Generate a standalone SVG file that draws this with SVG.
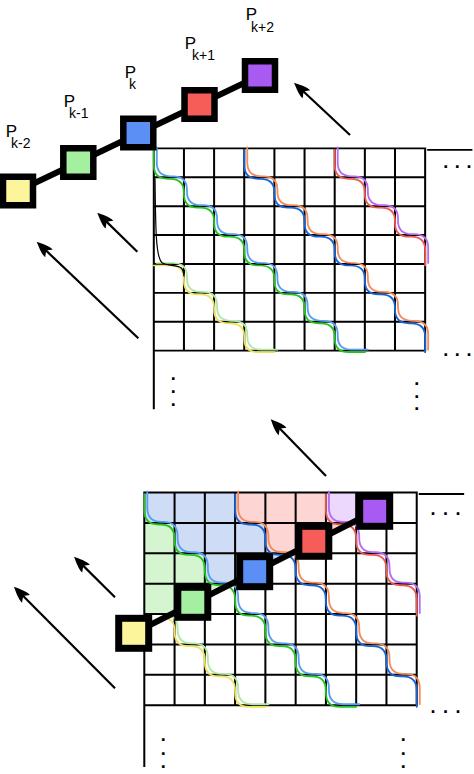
<svg xmlns="http://www.w3.org/2000/svg" xmlns:xlink="http://www.w3.org/1999/xlink" width="474" height="774" viewBox="0 0 474 774">
<style>
.gl{fill:none;stroke:#000;stroke-width:2;stroke-linecap:square}
.c{fill:none;stroke-width:1.8;stroke-linecap:round;stroke-linejoin:round}
.a{transform:translate(0px,1.6px)}
.b{transform:translate(3px,-1px)}
.nt{stroke:#000;stroke-width:6.5}
.nb{stroke:#000;stroke-width:7}
.lbl{font-family:"Liberation Sans",Arial,sans-serif;fill:#000;font-size:17px}
.sub{font-size:14px}
.arrow{stroke:#000;stroke-width:2.2;fill:none;marker-end:url(#ah)}
.chain{stroke:#000;stroke-width:6}
.dots{font-family:"Liberation Sans",Arial,sans-serif;font-size:18px;font-weight:bold;fill:#000}
</style>
<defs>
<marker id="ah" markerUnits="userSpaceOnUse" markerWidth="28" markerHeight="28" viewBox="-14 -14 28 28" refX="0" refY="0" orient="auto">
<path d="M6,0 C1,-2.2 -6,-5.8 -11,-5.5 L-7,0 L-11,5.5 C-6,5.8 1,2.2 6,0 Z" fill="#000"/>
</marker>
<path id="s1" d="M0,0 V16 Q0,30 14,30 H16 Q30,30 30,44 V46 Q30,60 44,60 H46 Q60,60 60,74 V76 Q60,90 74,90 H76 Q90,90 90,104 V106 Q90,120 104,120 H106 Q120,120 120,134 V136 Q120,150 134,150 H136 Q150,150 150,164 V166 Q150,180 164,180 H166 Q180,180 180,194 V196 Q180,210 194,210 H210"/>
<path id="s2" d="M90,0 V16 Q90,30 104,30 H106 Q120,30 120,44 V46 Q120,60 134,60 H136 Q150,60 150,74 V76 Q150,90 164,90 H166 Q180,90 180,104 V106 Q180,120 194,120 H196 Q210,120 210,134 V136 Q210,150 224,150 H226 Q240,150 240,164 V166 Q240,180 254,180 H256 Q270,180 270,194 V210"/>
<path id="s3" d="M180,0 V16 Q180,30 194,30 H196 Q210,30 210,44 V46 Q210,60 224,60 H226 Q240,60 240,74 V76 Q240,90 254,90 H256 Q270,90 270,104 V120"/>
<path id="s4" d="M0,120 H16 Q30,120 30,134 V136 Q30,150 44,150 H46 Q60,150 60,164 V166 Q60,180 74,180 H76 Q90,180 90,194 V196 Q90,210 104,210 H120"/>
<path id="s4b" d="M19,123 Q30,122 30,135 V136 Q30,150 44,150 H46 Q60,150 60,164 V166 Q60,180 74,180 H76 Q90,180 90,194 V196 Q90,210 104,210 H120"/>
<path id="gl" class="gl" d="M0,0V210M30,0V210M60,0V210M90,0V210M120,0V210M150,0V210M180,0V210M210,0V210M240,0V210M270,0V210M0,0H270M0,30H270M0,60H270M0,90H270M0,120H270M0,150H270M0,180H270M0,210H270M273,1.5H316M0,210V270"/>
<g id="waves">
<use xlink:href="#s1" class="c a" stroke="#22c422"/>
<use xlink:href="#s1" class="c b" stroke="#5a9cf0"/>
<use xlink:href="#s2" class="c a" stroke="#1863d6"/>
<use xlink:href="#s2" class="c b" stroke="#f28c5c"/>
<use xlink:href="#s3" class="c a" stroke="#ec5a50"/>
<use xlink:href="#s3" class="c b" stroke="#b46cf2"/>
</g>
</defs>

<g id="grid-top" transform="translate(153.8,148.4) scale(1.005,0.963)">
<use xlink:href="#gl"/>
<use xlink:href="#waves"/>
<use xlink:href="#s4" class="c a" stroke="#f2e05a"/>
<use xlink:href="#s4" class="c b" stroke="#aeeaa6"/>
<path d="M1.2,31 C1.8,85 2,112 8,118.5 C13,122.5 22,120.5 27,124 Q29.5,126 30,133" fill="none" stroke="#000" stroke-width="1.2"/>
</g>

<g id="grid-bottom" transform="translate(144.3,492.5) scale(1.009,1.013)">
<g id="fills">
<polygon fill="#d5f5d1" points="0,30 30,30 30,60 60,60 60,90 86.3,90 27.05,120 0,120"/>
<polygon fill="#cfdcf6" points="0,0 90,0 90,30 120,30 120,60 145.6,60 86.3,90 60,90 60,60 30,60 30,30 0,30"/>
<polygon fill="#fdd6d4" points="90,0 180,0 180,30 204.9,30 145.6,60 120,60 120,30 90,30"/>
<polygon fill="#ebd8fc" points="180,0 228,0 228,18.2 204.9,30 180,30"/>
</g>
<use xlink:href="#gl"/>
<use xlink:href="#waves"/>
<use xlink:href="#s4b" class="c a" stroke="#f2e05a"/>
<use xlink:href="#s4b" class="c b" stroke="#aeeaa6"/>
</g>

<g id="dots">
<text class="dots" x="443.2" y="168">.<tspan x="454.8">.</tspan><tspan x="466.5">.</tspan></text>
<text class="dots" x="443.2" y="356.3">.<tspan x="454.8">.</tspan><tspan x="466.5">.</tspan></text>
<text class="dots" x="170.8" y="379.6">.<tspan x="170.8" y="393">.</tspan><tspan x="170.8" y="406.3">.</tspan></text>
<text class="dots" x="414.2" y="384.6">.<tspan x="414.2" y="398">.</tspan><tspan x="414.2" y="409.6">.</tspan></text>
<text class="dots" x="430.5" y="514.6">.<tspan x="443">.</tspan><tspan x="455.5">.</tspan></text>
<text class="dots" x="430.5" y="713">.<tspan x="443">.</tspan><tspan x="455.5">.</tspan></text>
<text class="dots" x="160.8" y="741.3">.<tspan x="160.8" y="755.3">.</tspan><tspan x="160.8" y="768">.</tspan></text>
<text class="dots" x="400.8" y="741.3">.<tspan x="400.8" y="755.3">.</tspan><tspan x="400.8" y="768">.</tspan></text>
</g>

<g id="connectors">
<line class="arrow" x1="350" y1="135" x2="298.4" y2="86.8"/>
<line class="arrow" x1="137.3" y1="251.7" x2="101.6" y2="216.9"/>
<line class="arrow" x1="138.3" y1="338.3" x2="41.05" y2="245.8"/>
<line class="arrow" x1="326" y1="476" x2="274.9" y2="423.6"/>
<line class="arrow" x1="115" y1="597.3" x2="78.3" y2="560.9"/>
<line class="arrow" x1="115" y1="688.3" x2="18.2" y2="591"/>
<line class="chain" x1="18" y1="191" x2="260" y2="75.5"/>
<line class="chain" x1="133.7" y1="633.3" x2="374.7" y2="511.3"/>
</g>

<g id="top-pk-2"><rect class="nt" x="3" y="176.75" width="30" height="28.5" fill="#fdf59c"/><text class="lbl" x="5.7" y="137">P<tspan class="sub" x="11" y="148">k-2</tspan></text></g>
<g id="top-pk-1"><rect class="nt" x="63.3" y="148.25" width="30" height="28.5" fill="#a4f0a0"/><text class="lbl" x="63.7" y="107">P<tspan class="sub" x="69" y="118">k-1</tspan></text></g>
<g id="top-pk"><rect class="nt" x="123.3" y="118.75" width="30" height="28.5" fill="#5c8ff5"/><text class="lbl" x="124.7" y="78">P<tspan class="sub" x="129" y="89">k</tspan></text></g>
<g id="top-pk+1"><rect class="nt" x="184.5" y="90.25" width="30" height="28.5" fill="#f65c58"/><text class="lbl" x="184.7" y="49">P<tspan class="sub" x="192" y="60">k+1</tspan></text></g>
<g id="top-pk+2"><rect class="nt" x="245" y="61.25" width="30" height="28.5" fill="#a95af3"/><text class="lbl" x="245.7" y="20">P<tspan class="sub" x="251" y="32">k+2</tspan></text></g>

<g id="bottom-pk-2"><rect class="nb" x="118.7" y="618.3" width="30" height="30" fill="#fdf59c"/></g>
<g id="bottom-pk-1"><rect class="nb" x="177.8" y="587.3" width="30" height="30" fill="#a4f0a0"/></g>
<g id="bottom-pk"><rect class="nb" x="239.7" y="556.7" width="30" height="30" fill="#5c8ff5"/></g>
<g id="bottom-pk+1"><rect class="nb" x="298.8" y="526.3" width="30" height="30" fill="#f65c58"/></g>
<g id="bottom-pk+2"><rect class="nb" x="359.7" y="496.3" width="30" height="30" fill="#a95af3"/></g>
</svg>
